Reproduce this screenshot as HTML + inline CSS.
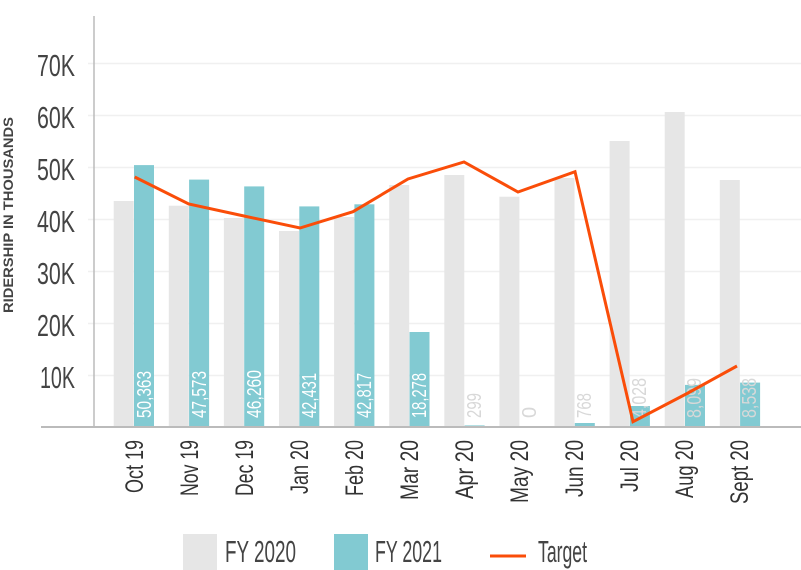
<!DOCTYPE html>
<html><head><style>
html,body{margin:0;padding:0;background:#fff;}
svg{display:block;font-family:"Liberation Sans Narrow","Liberation Sans",sans-serif;}
</style></head><body>
<svg width="801" height="570" viewBox="0 0 801 570" xmlns="http://www.w3.org/2000/svg">
<g stroke="#f0f0f0" stroke-width="1.5">
<line x1="88" x2="801" y1="63.5" y2="63.5"/><line x1="88" x2="801" y1="115.5" y2="115.5"/>
<line x1="88" x2="801" y1="167.5" y2="167.5"/><line x1="88" x2="801" y1="219.5" y2="219.5"/>
<line x1="88" x2="801" y1="271.5" y2="271.5"/><line x1="88" x2="801" y1="323.5" y2="323.5"/>
<line x1="88" x2="801" y1="375.5" y2="375.5"/>
</g>
<g fill="#444" font-size="31" text-anchor="end">
<text x="75" y="76" textLength="38" lengthAdjust="spacingAndGlyphs">70K</text>
<text x="75" y="128" textLength="38" lengthAdjust="spacingAndGlyphs">60K</text>
<text x="75" y="180" textLength="38" lengthAdjust="spacingAndGlyphs">50K</text>
<text x="75" y="232" textLength="38" lengthAdjust="spacingAndGlyphs">40K</text>
<text x="75" y="284" textLength="38" lengthAdjust="spacingAndGlyphs">30K</text>
<text x="75" y="336" textLength="38" lengthAdjust="spacingAndGlyphs">20K</text>
<text x="75" y="388" textLength="35" lengthAdjust="spacingAndGlyphs">10K</text>
</g>
<text transform="translate(13,215) rotate(-90)" text-anchor="middle" font-family="Liberation Sans,sans-serif" font-weight="bold" font-size="14" fill="#444" textLength="196" lengthAdjust="spacingAndGlyphs">RIDERSHIP IN THOUSANDS</text>
<g fill="#e6e6e6">
<rect x="113.7" y="201" width="20" height="226"/>
<rect x="168.8" y="205.7" width="20" height="221.3"/>
<rect x="223.9" y="218" width="20" height="209"/>
<rect x="279" y="231" width="20" height="196"/>
<rect x="334.1" y="217" width="20" height="210"/>
<rect x="389.2" y="185" width="20" height="242"/>
<rect x="444.3" y="175" width="20" height="252"/>
<rect x="499.4" y="196.7" width="20" height="230.3"/>
<rect x="554.5" y="178" width="20" height="249"/>
<rect x="609.6" y="141" width="20" height="286"/>
<rect x="664.7" y="112" width="20" height="315"/>
<rect x="719.8" y="180" width="20" height="247"/>
</g>
<g fill="#82cad2">
<rect x="134" y="165.1" width="20" height="261.9"/>
<rect x="189.1" y="179.6" width="20" height="247.4"/>
<rect x="244.2" y="186.4" width="20" height="240.6"/>
<rect x="299.3" y="206.4" width="20" height="220.6"/>
<rect x="354.4" y="204.3" width="20" height="222.7"/>
<rect x="409.5" y="332" width="20" height="95"/>
<rect x="464.6" y="425.4" width="20" height="1.6"/>
<rect x="574.8" y="423" width="20" height="4"/>
<rect x="629.9" y="406" width="20" height="21"/>
<rect x="685" y="384.9" width="20" height="42.1"/>
<rect x="740.1" y="382.6" width="20" height="44.4"/>
</g>
<g font-size="20" fill="#fff">
<text transform="translate(151,418) rotate(-90)" textLength="47" lengthAdjust="spacingAndGlyphs">50,363</text>
<text transform="translate(206,418) rotate(-90)" textLength="47" lengthAdjust="spacingAndGlyphs">47,573</text>
<text transform="translate(261,418) rotate(-90)" textLength="48" lengthAdjust="spacingAndGlyphs">46,260</text>
<text transform="translate(316,418) rotate(-90)" textLength="45" lengthAdjust="spacingAndGlyphs">42,431</text>
<text transform="translate(371,418) rotate(-90)" textLength="45" lengthAdjust="spacingAndGlyphs">42,817</text>
<text transform="translate(426,418) rotate(-90)" textLength="45" lengthAdjust="spacingAndGlyphs">18,278</text>
</g>
<g font-size="20" fill="#d8d8d8">
<text transform="translate(481,418) rotate(-90)" textLength="25" lengthAdjust="spacingAndGlyphs">299</text>
<text transform="translate(536,418) rotate(-90)">0</text>
<text transform="translate(591,418) rotate(-90)" textLength="25" lengthAdjust="spacingAndGlyphs">768</text>
<text transform="translate(646,418) rotate(-90)" textLength="40" lengthAdjust="spacingAndGlyphs">4,028</text>
<text transform="translate(701,418) rotate(-90)" textLength="40" lengthAdjust="spacingAndGlyphs">8,099</text>
<text transform="translate(756,418) rotate(-90)" textLength="40" lengthAdjust="spacingAndGlyphs">8,538</text>
</g>
<line x1="94" y1="16" x2="94" y2="427" stroke="#bbb" stroke-width="1.5"/>
<line x1="41" y1="427" x2="801" y2="427" stroke="#bbb" stroke-width="2"/>
<polyline fill="none" stroke="#fa4d09" stroke-width="3" points="134.7,177 188.7,204 244,216 300,228 353,211.7 408,179 464,162 518,192 575,171.7 633,421.7 688,393 737,366"/>
<g fill="#333" font-size="25" text-anchor="end">
<text transform="translate(143,440) rotate(-90)" textLength="53" lengthAdjust="spacingAndGlyphs">Oct 19</text>
<text transform="translate(198,440) rotate(-90)" textLength="56" lengthAdjust="spacingAndGlyphs">Nov 19</text>
<text transform="translate(253,440) rotate(-90)" textLength="56" lengthAdjust="spacingAndGlyphs">Dec 19</text>
<text transform="translate(308,440) rotate(-90)" textLength="54" lengthAdjust="spacingAndGlyphs">Jan 20</text>
<text transform="translate(363,440) rotate(-90)" textLength="56" lengthAdjust="spacingAndGlyphs">Feb 20</text>
<text transform="translate(418,440) rotate(-90)" textLength="60" lengthAdjust="spacingAndGlyphs">Mar 20</text>
<text transform="translate(473,440) rotate(-90)" textLength="59" lengthAdjust="spacingAndGlyphs">Apr 20</text>
<text transform="translate(528,440) rotate(-90)" textLength="63" lengthAdjust="spacingAndGlyphs">May 20</text>
<text transform="translate(583,440) rotate(-90)" textLength="57" lengthAdjust="spacingAndGlyphs">Jun 20</text>
<text transform="translate(638,440) rotate(-90)" textLength="52" lengthAdjust="spacingAndGlyphs">Jul 20</text>
<text transform="translate(693,440) rotate(-90)" textLength="58" lengthAdjust="spacingAndGlyphs">Aug 20</text>
<text transform="translate(748,440) rotate(-90)" textLength="64" lengthAdjust="spacingAndGlyphs">Sept 20</text>
</g>
<rect x="183" y="534" width="34" height="36" fill="#e6e6e6"/>
<text x="225" y="562" font-size="31" fill="#444" textLength="71" lengthAdjust="spacingAndGlyphs">FY 2020</text>
<rect x="334" y="534" width="34" height="36" fill="#82cad2"/>
<text x="375" y="562" font-size="31" fill="#444" textLength="67" lengthAdjust="spacingAndGlyphs">FY 2021</text>
<line x1="490" y1="556" x2="526" y2="556" stroke="#fa4d09" stroke-width="3"/>
<text x="538" y="562" font-size="31" fill="#444" textLength="49" lengthAdjust="spacingAndGlyphs">Target</text>
</svg>
</body></html>
